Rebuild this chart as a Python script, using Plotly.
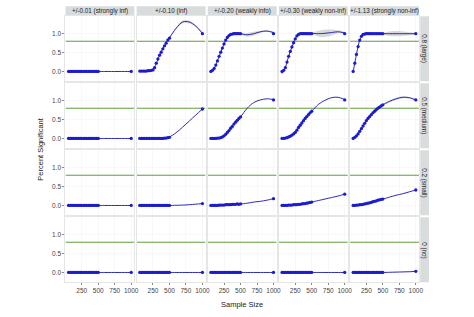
import plotly.graph_objects as go

# ---------------- data ----------------
COL_LABELS = ["+/-0.01 (strongly inf)", "+/-0.10 (inf)", "+/-0.20 (weakly info)",
              "+/-0.30 (weakly non-inf)", "+/-1.13 (strongly non-inf)"]
ROW_LABELS = ["0.8 (large)", "0.5 (medium)", "0.2 (small)", "0 (no)"]

SAMPLE_SIZES = [50, 75, 100, 125, 150, 175, 200, 225, 250, 275, 300, 325, 350,
                375, 400, 425, 450, 475, 500, 1000]
FIT_X = [50, 100, 150, 200, 250, 300, 350, 400, 450, 500, 600, 700, 800, 900, 1000]

X_TICKS = [250, 500, 750, 1000]
Y_TICKS = [0.0, 0.5, 1.0]
Y_TICK_TEXT = ["0.0", "0.5", "1.0"]
THRESHOLD = 0.8

# points per row (one list per column)
PTS_LARGE = [
    [0.0, 0.0, 0.0, 0.0, 0.0, 0.0, 0.0, 0.0, 0.0, 0.0, 0.0, 0.0, 0.0, 0.0, 0.0, 0.0, 0.0, 0.0, 0.0, 0.0],
    [0.01, 0.01, 0.01, 0.01, 0.01, 0.02, 0.02, 0.03, 0.04, 0.10, 0.22, 0.33, 0.43, 0.51, 0.60, 0.68, 0.75, 0.83, 0.88, 1.0],
    [0.0, 0.03, 0.08, 0.17, 0.28, 0.40, 0.51, 0.62, 0.73, 0.83, 0.90, 0.95, 0.98, 0.99, 1.0, 1.0, 1.0, 1.0, 1.0, 1.0],
    [0.0, 0.03, 0.10, 0.25, 0.40, 0.53, 0.65, 0.76, 0.86, 0.94, 0.98, 1.0, 1.0, 1.0, 1.0, 1.0, 1.0, 1.0, 1.0, 1.0],
    [0.0, 0.22, 0.45, 0.66, 0.83, 0.93, 0.98, 0.99, 1.0, 1.0, 1.0, 1.0, 1.0, 1.0, 1.0, 1.0, 1.0, 1.0, 1.0, 1.0],
]
PTS_MEDIUM = [
    [0.0, 0.0, 0.0, 0.0, 0.0, 0.0, 0.0, 0.0, 0.0, 0.0, 0.0, 0.0, 0.0, 0.0, 0.0, 0.0, 0.0, 0.0, 0.0, 0.0],
    [0.0, 0.0, 0.0, 0.0, 0.0, 0.0, 0.0, 0.0, 0.0, 0.0, 0.0, 0.0, 0.0, 0.0, 0.0, 0.01, 0.01, 0.02, 0.03, 0.78],
    [0.0, 0.0, 0.0, 0.0, 0.01, 0.01, 0.02, 0.04, 0.07, 0.11, 0.16, 0.21, 0.27, 0.32, 0.38, 0.43, 0.48, 0.53, 0.57, 1.02],
    [0.0, 0.0, 0.01, 0.02, 0.04, 0.06, 0.09, 0.12, 0.16, 0.22, 0.29, 0.35, 0.41, 0.47, 0.53, 0.58, 0.63, 0.68, 0.72, 1.02],
    [0.0, 0.03, 0.07, 0.12, 0.19, 0.26, 0.33, 0.40, 0.47, 0.53, 0.58, 0.63, 0.68, 0.72, 0.76, 0.80, 0.83, 0.86, 0.89, 1.02],
]
PTS_SMALL = [
    [0.0, 0.0, 0.0, 0.0, 0.0, 0.0, 0.0, 0.0, 0.0, 0.0, 0.0, 0.0, 0.0, 0.0, 0.0, 0.0, 0.0, 0.0, 0.0, 0.0],
    [0.0, 0.0, 0.0, 0.0, 0.0, 0.0, 0.0, 0.0, 0.0, 0.0, 0.0, 0.0, 0.0, 0.0, 0.0, 0.0, 0.0, 0.0, 0.0, 0.05],
    [0.0, 0.0, 0.0, 0.0, 0.0, 0.01, 0.01, 0.01, 0.01, 0.02, 0.02, 0.02, 0.02, 0.03, 0.03, 0.03, 0.04, 0.03, 0.04, 0.18],
    [0.0, 0.0, 0.0, 0.0, 0.01, 0.01, 0.01, 0.02, 0.02, 0.02, 0.03, 0.03, 0.04, 0.05, 0.05, 0.06, 0.07, 0.08, 0.09, 0.30],
    [0.0, 0.0, 0.01, 0.01, 0.02, 0.02, 0.03, 0.04, 0.05, 0.06, 0.07, 0.08, 0.10, 0.11, 0.12, 0.14, 0.15, 0.16, 0.17, 0.41],
]
PTS_NO = [
    [0.0, 0.0, 0.0, 0.0, 0.0, 0.0, 0.0, 0.0, 0.0, 0.0, 0.0, 0.0, 0.0, 0.0, 0.0, 0.0, 0.0, 0.0, 0.0, 0.0],
    [0.0, 0.0, 0.0, 0.0, 0.0, 0.0, 0.0, 0.0, 0.0, 0.0, 0.0, 0.0, 0.0, 0.0, 0.0, 0.0, 0.0, 0.0, 0.0, 0.0],
    [0.0, 0.0, 0.0, 0.0, 0.0, 0.0, 0.0, 0.0, 0.0, 0.0, 0.0, 0.0, 0.0, 0.0, 0.0, 0.0, 0.0, 0.0, 0.0, 0.0],
    [0.0, 0.0, 0.0, 0.0, 0.0, 0.0, 0.0, 0.0, 0.0, 0.0, 0.0, 0.0, 0.0, 0.0, 0.0, 0.0, 0.0, 0.0, 0.0, 0.0],
    [0.0, 0.0, 0.0, 0.0, 0.0, 0.0, 0.0, 0.0, 0.0, 0.0, 0.0, 0.0, 0.0, 0.0, 0.0, 0.0, 0.0, 0.0, 0.0, 0.03],
]

# smoothed fit per row (one list per column, at FIT_X)
FIT_LARGE = [
    [0.0, 0.0, 0.0, 0.0, 0.0, 0.0, 0.0, 0.0, 0.0, 0.0, 0.0, 0.0, 0.0, 0.0, 0.0],
    [0.0, 0.0, 0.01, 0.02, 0.05, 0.21, 0.43, 0.60, 0.76, 0.89, 1.14, 1.31, 1.31, 1.20, 1.01],
    [-0.01, 0.08, 0.29, 0.51, 0.73, 0.91, 0.99, 1.02, 1.02, 1.0, 0.97, 1.0, 1.05, 1.07, 1.03],
    [-0.05, 0.11, 0.40, 0.65, 0.87, 0.98, 1.02, 1.02, 1.01, 1.01, 1.0, 1.01, 1.03, 1.05, 1.02],
    [-0.02, 0.45, 0.83, 0.99, 1.02, 1.01, 1.0, 1.0, 1.0, 1.0, 1.0, 1.0, 1.0, 1.0, 1.0],
]
FIT_MEDIUM = [
    [0.0, 0.0, 0.0, 0.0, 0.0, 0.0, 0.0, 0.0, 0.0, 0.0, 0.0, 0.0, 0.0, 0.0, 0.0],
    [0.0, 0.0, 0.0, 0.0, 0.0, 0.0, 0.0, 0.0, 0.01, 0.04, 0.15, 0.30, 0.46, 0.62, 0.78],
    [0.0, 0.0, 0.01, 0.02, 0.07, 0.16, 0.27, 0.38, 0.48, 0.57, 0.80, 0.95, 1.02, 1.05, 1.03],
    [0.0, 0.01, 0.04, 0.09, 0.16, 0.29, 0.41, 0.53, 0.63, 0.72, 0.90, 1.01, 1.08, 1.09, 1.03],
    [0.0, 0.07, 0.19, 0.33, 0.47, 0.58, 0.68, 0.76, 0.83, 0.89, 0.98, 1.05, 1.09, 1.08, 1.02],
]
FIT_SMALL = [
    [0.0, 0.0, 0.0, 0.0, 0.0, 0.0, 0.0, 0.0, 0.0, 0.0, 0.0, 0.0, 0.0, 0.0, 0.0],
    [0.0, 0.0, 0.0, 0.0, 0.0, 0.0, 0.0, 0.0, 0.0, 0.0, 0.005, 0.01, 0.02, 0.035, 0.05],
    [0.0, 0.0, 0.0, 0.01, 0.01, 0.02, 0.02, 0.03, 0.04, 0.04, 0.06, 0.09, 0.11, 0.14, 0.18],
    [0.0, 0.0, 0.01, 0.01, 0.02, 0.03, 0.04, 0.05, 0.07, 0.09, 0.13, 0.17, 0.21, 0.25, 0.30],
    [0.0, 0.01, 0.02, 0.03, 0.05, 0.07, 0.10, 0.12, 0.15, 0.17, 0.22, 0.27, 0.31, 0.36, 0.41],
]
FIT_NO = [
    [0.0, 0.0, 0.0, 0.0, 0.0, 0.0, 0.0, 0.0, 0.0, 0.0, 0.0, 0.0, 0.0, 0.0, 0.0],
    [0.0, 0.0, 0.0, 0.0, 0.0, 0.0, 0.0, 0.0, 0.0, 0.0, 0.0, 0.0, 0.0, 0.0, 0.0],
    [0.0, 0.0, 0.0, 0.0, 0.0, 0.0, 0.0, 0.0, 0.0, 0.0, 0.0, 0.0, 0.0, 0.0, 0.0],
    [0.0, 0.0, 0.0, 0.0, 0.0, 0.0, 0.0, 0.0, 0.0, 0.0, 0.0, 0.0, 0.0, 0.0, 0.0],
    [0.0, 0.0, 0.0, 0.0, 0.0, 0.0, 0.0, 0.0, 0.0, 0.0, 0.005, 0.01, 0.015, 0.02, 0.03],
]

# confidence band half-widths (only where visible), keyed (row, col), at FIT_X
RIB_LARGE_INF = [0.01, 0.01, 0.01, 0.01, 0.01, 0.01, 0.01, 0.01, 0.01, 0.01, 0.03, 0.04, 0.04, 0.03, 0.02]
RIB_LARGE_WINFO = [0.02, 0.01, 0.01, 0.01, 0.01, 0.01, 0.01, 0.01, 0.01, 0.01, 0.05, 0.05, 0.03, 0.02, 0.02]
RIB_LARGE_WNONINF = [0.03, 0.01, 0.01, 0.01, 0.01, 0.01, 0.01, 0.01, 0.01, 0.02, 0.08, 0.10, 0.08, 0.04, 0.02]
RIB_LARGE_SNONINF = [0.03, 0.01, 0.01, 0.01, 0.01, 0.01, 0.01, 0.01, 0.01, 0.02, 0.06, 0.07, 0.06, 0.04, 0.02]
RIB_MEDIUM_SNONINF = [0.01, 0.01, 0.01, 0.01, 0.01, 0.01, 0.01, 0.01, 0.01, 0.01, 0.03, 0.03, 0.03, 0.02, 0.02]
RIBBONS = {(0, 1): RIB_LARGE_INF, (0, 2): RIB_LARGE_WINFO, (0, 3): RIB_LARGE_WNONINF,
           (0, 4): RIB_LARGE_SNONINF, (1, 4): RIB_MEDIUM_SNONINF}

POINTS = [PTS_LARGE, PTS_MEDIUM, PTS_SMALL, PTS_NO]
FITS = [FIT_LARGE, FIT_MEDIUM, FIT_SMALL, FIT_NO]

# ---------------- layout geometry (pixels) ----------------
W, H = 474, 317
COL_LEFT = [66, 137.8, 209.5, 281.3, 353]
PANEL_W = 69.5
ROW_TOP = [16.3, 83.3, 150.3, 217.3]
PANEL_H = 65
X_RANGE = [2.5, 1047.5]
Y_RANGE = [-0.26, 1.46]

FONT = "Liberation Sans, Arial, sans-serif"
PT_COLOR = "#1c1ccf"
LINE_COLOR = "#2b2bb5"
GREEN = "#5e9e3c"
STRIP_BG = "#d9dcdd"
BORDER = "#e6e6e6"

fig = go.Figure()
layout = {}

for r in range(4):
    for c in range(5):
        idx = r * 5 + c + 1
        xa = "x" if idx == 1 else f"x{idx}"
        ya = "y" if idx == 1 else f"y{idx}"
        xkey = "xaxis" if idx == 1 else f"xaxis{idx}"
        ykey = "yaxis" if idx == 1 else f"yaxis{idx}"
        x0 = COL_LEFT[c] / W
        x1 = (COL_LEFT[c] + PANEL_W) / W
        y1 = 1 - ROW_TOP[r] / H
        y0 = 1 - (ROW_TOP[r] + PANEL_H) / H
        layout[xkey] = dict(domain=[x0, x1], range=X_RANGE, anchor=ya,
                            tickvals=X_TICKS, showticklabels=(r == 3),
                            ticks="outside" if r == 3 else "", ticklen=2, tickcolor="#888",
                            showgrid=True, gridcolor="#f8f8f8", gridwidth=1,
                            zeroline=False, showline=True, mirror=True,
                            linecolor=BORDER, linewidth=1,
                            tickfont=dict(family=FONT, size=6.5, color="#444"))
        layout[ykey] = dict(domain=[y0, y1], range=Y_RANGE, anchor=xa,
                            tickvals=Y_TICKS, ticktext=Y_TICK_TEXT, showticklabels=(c == 0),
                            ticks="outside" if c == 0 else "", ticklen=2, tickcolor="#888",
                            showgrid=True, gridcolor="#f8f8f8", gridwidth=1,
                            zeroline=False, showline=True, mirror=True,
                            linecolor=BORDER, linewidth=1,
                            tickfont=dict(family=FONT, size=6.5, color="#444"))

        # threshold line
        fig.add_trace(go.Scatter(x=X_RANGE, y=[THRESHOLD, THRESHOLD], mode="lines",
                                 line=dict(color=GREEN, width=1), xaxis=xa, yaxis=ya,
                                 showlegend=False, hoverinfo="skip"))
        fit = FITS[r][c]
        if (r, c) in RIBBONS:
            rib = RIBBONS[(r, c)]
            up = [f + e for f, e in zip(fit, rib)]
            lo = [f - e for f, e in zip(fit, rib)]
            fig.add_trace(go.Scatter(x=FIT_X + FIT_X[::-1], y=up + lo[::-1], mode="lines",
                                     fill="toself", fillcolor="rgba(160,160,160,0.4)",
                                     line=dict(width=0, shape="spline"), xaxis=xa, yaxis=ya,
                                     showlegend=False, hoverinfo="skip"))
        fig.add_trace(go.Scatter(x=FIT_X, y=fit, mode="lines",
                                 line=dict(color=LINE_COLOR, width=1, shape="spline", smoothing=0.9),
                                 xaxis=xa, yaxis=ya, showlegend=False, hoverinfo="skip"))
        fig.add_trace(go.Scatter(x=SAMPLE_SIZES, y=POINTS[r][c], mode="markers",
                                 marker=dict(color=PT_COLOR, size=3.3, line=dict(width=0)),
                                 xaxis=xa, yaxis=ya, showlegend=False))

shapes = []
annotations = []
# top strips
for c in range(5):
    x0 = COL_LEFT[c] / W
    x1 = (COL_LEFT[c] + PANEL_W) / W
    shapes.append(dict(type="rect", xref="paper", yref="paper", x0=x0, x1=x1,
                       y0=1 - 15.6 / H, y1=1 - 6.2 / H, fillcolor=STRIP_BG, line=dict(width=0),
                       layer="below"))
    annotations.append(dict(text=COL_LABELS[c], xref="paper", yref="paper",
                            x=(x0 + x1) / 2, y=1 - 10.9 / H, showarrow=False,
                            xanchor="center", yanchor="middle",
                            font=dict(family=FONT, size=6.3, color="#222")))
# right strips
for r in range(4):
    y1 = 1 - ROW_TOP[r] / H
    y0 = 1 - (ROW_TOP[r] + PANEL_H) / H
    shapes.append(dict(type="rect", xref="paper", yref="paper", x0=423.8 / W, x1=432.6 / W,
                       y0=y0, y1=y1, fillcolor=STRIP_BG, line=dict(width=0), layer="below"))
    annotations.append(dict(text=ROW_LABELS[r], xref="paper", yref="paper",
                            x=428.2 / W, y=(y0 + y1) / 2, showarrow=False, textangle=90,
                            xanchor="center", yanchor="middle",
                            font=dict(family=FONT, size=6.3, color="#222")))

annotations.append(dict(text="Percent Significant", xref="paper", yref="paper",
                        x=40 / W, y=1 - 149 / H, showarrow=False, textangle=-90,
                        xanchor="center", yanchor="middle",
                        font=dict(family=FONT, size=7.5, color="#222")))
annotations.append(dict(text="Sample Size", xref="paper", yref="paper",
                        x=244 / W, y=1 - 304 / H, showarrow=False,
                        xanchor="center", yanchor="middle",
                        font=dict(family=FONT, size=7.5, color="#222")))

fig.update_layout(width=W, height=H, margin=dict(l=0, r=0, t=0, b=0),
                  paper_bgcolor="white", plot_bgcolor="white",
                  shapes=shapes, annotations=annotations, showlegend=False, **layout)

fig.write_html("out.html")
